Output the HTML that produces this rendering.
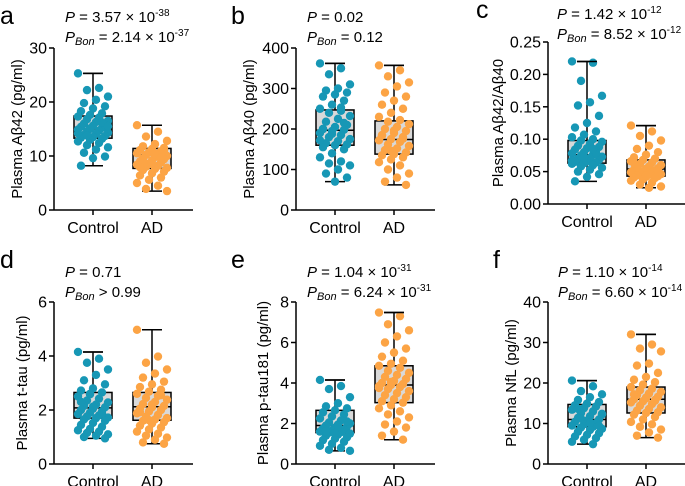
<!DOCTYPE html>
<html><head><meta charset="utf-8">
<style>
html,body{margin:0;padding:0;background:#fff;}
svg{display:block;font-family:"Liberation Sans",Arial,sans-serif;}
</style></head>
<body>
<svg id="fig" width="685" height="486" viewBox="0 0 685 486"></svg>
<script>
// ---- data ----
const categories = ["Control","AD"];
const aTicks=[0,10,20,30], bTicks=[0,100,200,300,400], cTicks=[0,0.05,0.10,0.15,0.20,0.25];
const dTicks=[0,2,4,6], eTicks=[0,2,4,6,8], fTicks=[0,10,20,30,40];
const aTickLabels=["0","10","20","30"], bTickLabels=["0","100","200","300","400"];
const cTickLabels=["0.00","0.05","0.10","0.15","0.20","0.25"];
const dTickLabels=["0","2","4","6"], eTickLabels=["0","2","4","6","8"], fTickLabels=["0","10","20","30","40"];
// box stats: [min, q1, median, q3, max]
const aBoxC=[8.2,13.3,15.0,17.4,25.3], aBoxA=[3.5,7.7,10.2,11.4,15.7];
const bBoxC=[70,160,197,247,362], bBoxA=[62,138,174,220,357];
const cBoxC=[0.035,0.063,0.076,0.098,0.22], cBoxA=[0.025,0.043,0.054,0.068,0.121];
const dBoxC=[0.95,1.7,2.08,2.65,4.15], dBoxA=[0.75,1.62,2.12,2.65,4.97];
const eBoxC=[0.65,1.55,1.9,2.65,4.15], eBoxA=[1.2,3.03,3.9,4.85,7.48];
const fBoxC=[4.9,9.2,11.0,14.7,20.6], fBoxA=[6.5,12.6,16.0,19.0,32];
// points
const aC=[25.3,22.6,22.2,21,20.4,19.8,19.2,18.8,18.3,17.9,17.6,17.3,17.0,16.8,16.5,16.3,16.0,15.8,15.6,15.4,15.2,15.0,14.9,14.7,14.5,14.3,14.1,13.9,13.7,13.5,13.4,13.2,13.0,12.7,12.4,12.0,11.6,11.2,10.6,9.9,9.6,8.2,16.2,15.1,14.2,17.1,13.8,15.5];
const aA=[15.7,14.5,13.6,12.8,12.2,11.8,11.5,11.3,11.1,10.9,10.7,10.5,10.3,10.2,10.0,9.8,9.6,9.4,9.2,9.0,8.8,8.6,8.4,8.2,8.0,7.8,7.6,7.4,7.1,6.8,6.4,6.0,5.6,5.0,4.5,3.9,3.5,10.4,9.1,11.0,8.5,7.9,9.7];
const bC=[362,350,335,310,300,295,290,285,280,270,260,250,245,240,232,225,218,210,205,200,198,195,190,185,180,175,170,165,162,160,155,150,140,130,120,115,110,100,90,80,70,200,215,188,172,253];
const bA=[357,345,330,315,305,290,280,270,260,250,240,230,222,218,212,205,200,195,190,185,180,175,172,168,162,158,152,148,142,138,135,130,125,118,110,100,90,80,70,62,196,184,176,146];
const cC=[0.22,0.218,0.19,0.167,0.157,0.152,0.136,0.125,0.118,0.112,0.107,0.103,0.100,0.098,0.096,0.093,0.09,0.088,0.086,0.084,0.082,0.080,0.078,0.076,0.075,0.073,0.071,0.070,0.068,0.066,0.065,0.064,0.063,0.062,0.06,0.058,0.056,0.053,0.05,0.046,0.042,0.035,0.079,0.072,0.067,0.085];
const cA=[0.121,0.112,0.105,0.098,0.09,0.085,0.08,0.076,0.072,0.07,0.068,0.066,0.064,0.062,0.06,0.058,0.056,0.055,0.054,0.053,0.052,0.05,0.049,0.048,0.047,0.046,0.045,0.044,0.043,0.042,0.041,0.04,0.038,0.036,0.033,0.03,0.027,0.025,0.057,0.051,0.044,0.063];
const dC=[4.15,3.9,3.75,3.5,3.3,3.1,2.95,2.8,2.72,2.65,2.58,2.5,2.42,2.35,2.28,2.2,2.15,2.1,2.05,2.0,1.95,1.9,1.85,1.8,1.76,1.72,1.7,1.65,1.6,1.52,1.45,1.38,1.3,1.25,1.2,1.15,1.1,1.05,1.0,0.95,2.12,2.3,1.88,2.6];
const dA=[4.97,3.98,3.75,3.5,3.35,3.2,3.05,2.95,2.85,2.75,2.68,2.6,2.52,2.45,2.38,2.3,2.22,2.15,2.1,2.05,2.0,1.95,1.88,1.82,1.75,1.7,1.65,1.6,1.55,1.5,1.42,1.35,1.28,1.2,1.12,1.05,0.98,0.9,0.8,0.75,2.2,1.92,2.55,1.62];
const eC=[4.15,3.85,3.7,3.3,3.0,2.85,2.75,2.65,2.55,2.45,2.35,2.25,2.15,2.05,2.0,1.95,1.9,1.85,1.8,1.75,1.7,1.65,1.6,1.57,1.55,1.5,1.45,1.4,1.32,1.25,1.18,1.1,1.0,0.9,0.8,0.7,0.65,1.88,1.62,2.1,1.52];
const eA=[7.48,7.3,6.9,6.6,6.3,6.0,5.7,5.5,5.3,5.1,4.95,4.85,4.75,4.6,4.5,4.4,4.3,4.2,4.1,4.0,3.95,3.9,3.85,3.8,3.7,3.6,3.5,3.4,3.3,3.2,3.1,3.03,2.9,2.75,2.6,2.45,2.3,2.1,1.95,1.8,1.6,1.4,1.2,4.05,3.75];
const fC=[20.6,19.2,18.0,17.2,16.5,15.8,15.3,14.9,14.5,14.2,13.8,13.4,13.0,12.6,12.2,11.8,11.4,11.0,10.7,10.4,10.1,9.8,9.5,9.2,9.0,8.7,8.4,8.0,7.6,7.2,6.8,6.4,6.0,5.5,4.9,11.2,12.4,10.2,13.6,9.4];
const fA=[32,29.5,28.5,27.8,24.8,24.3,22.5,21.5,20.8,20.2,19.6,19.0,18.6,18.2,17.8,17.4,17.0,16.6,16.2,16.0,15.8,15.5,15.2,14.8,14.4,14.0,13.6,13.2,12.8,12.6,12.2,11.6,11.0,10.4,9.8,9.2,8.5,7.8,7.0,6.5,16.4,17.2,15.6];

const NS="http://www.w3.org/2000/svg";
const svg=document.getElementById('fig');
function mk(tag,attrs,parent){const e=document.createElementNS(NS,tag);for(const k in attrs)e.setAttribute(k,attrs[k]);(parent||svg).appendChild(e);return e;}
const colors=["#1797b5","#fca445"];

const panels=[
 {id:"a",ax:54,top:48,bot:210,max:30,ticks:aTicks,tl:aTickLabels,boxes:[aBoxC,aBoxA],pts:[aC,aA],title:"Plasma Aβ42 (pg/ml)",tx:22,letter:[0,24],p1:"3.57 × 10",e1:"-38",p2:"2.14 × 10",e2:"-37",px:65,py:22},
 {id:"b",ax:296,top:48,bot:210,max:400,ticks:bTicks,tl:bTickLabels,boxes:[bBoxC,bBoxA],pts:[bC,bA],title:"Plasma Aβ40 (pg/ml)",tx:254,letter:[231,24],p1:"0.02",p2:"0.12",px:307,py:22},
 {id:"c",ax:548,top:42,bot:204,max:0.25,ticks:cTicks,tl:cTickLabels,boxes:[cBoxC,cBoxA],pts:[cC,cA],title:"Plasma Aβ42/Aβ40",tx:503,letter:[476,18],p1:"1.42 × 10",e1:"-12",p2:"8.52 × 10",e2:"-12",px:557,py:19},
 {id:"d",ax:54,top:302,bot:464,max:6,ticks:dTicks,tl:dTickLabels,boxes:[dBoxC,dBoxA],pts:[dC,dA],title:"Plasma t-tau (pg/ml)",tx:27,letter:[0,268],p1:"0.71",p2:"> 0.99",gt:true,px:65,py:277},
 {id:"e",ax:296,top:302,bot:464,max:8,ticks:eTicks,tl:eTickLabels,boxes:[eBoxC,eBoxA],pts:[eC,eA],title:"Plasma p-tau181 (pg/ml)",tx:268,letter:[231,268],p1:"1.04 × 10",e1:"-31",p2:"6.24 × 10",e2:"-31",px:307,py:277},
 {id:"f",ax:548,top:302,bot:464,max:40,ticks:fTicks,tl:fTickLabels,boxes:[fBoxC,fBoxA],pts:[fC,fA],title:"Plasma NfL (pg/ml)",tx:516,letter:[493,268],p1:"1.10 × 10",e1:"-14",p2:"6.60 × 10",e2:"-14",px:558,py:277}
];

panels.forEach(P=>{
  const g=mk('g',{});
  
  
  const y=v=>P.bot-(v/P.max)*(P.bot-P.top);
  const xs=[P.ax+39,P.ax+98];
  const L=mk('text',{x:P.letter[0],y:P.letter[1],'font-size':25},g);L.textContent=P.id;
  
  
  const t1=mk('text',{x:P.px,y:P.py,'font-size':15},g);
  
  
  t1.innerHTML='<tspan font-style="italic">P</tspan> = '+P.p1+(P.e1?'<tspan font-size="10" dy="-6">'+P.e1+'</tspan>':'');
  const t2=mk('text',{x:P.px,y:P.py+20,'font-size':15},g);
  
  
  t2.innerHTML='<tspan font-style="italic">P</tspan><tspan font-style="italic" font-size="11" dy="3">Bon</tspan><tspan dy="-3"> '+(P.gt?'':'= ')+P.p2+'</tspan>'+(P.e2?'<tspan font-size="10" dy="-6">'+P.e2+'</tspan>':'');
  const ya=mk('line',{x1:P.ax,y1:P.top,x2:P.ax,y2:P.bot,stroke:'#000','stroke-width':1.5},g);
  
  
  const xa=mk('line',{x1:P.ax,y1:P.bot,x2:Math.min(P.ax+139,685),y2:P.bot,stroke:'#000','stroke-width':1.5},g);
  
  
  P.ticks.forEach((t,i)=>{
    mk('line',{x1:P.ax-5,x2:P.ax,y1:y(t),y2:y(t),stroke:'#000','stroke-width':1.5},g);
    const tl=mk('text',{x:P.ax-7,y:y(t)+5.5,'font-size':16,'text-anchor':'end'},g);
    tl.textContent=P.tl[i];
    
    
  });
  const yt=mk('text',{x:0,y:0,'font-size':15,'text-anchor':'middle',transform:`translate(${P.tx},${(P.top+P.bot)/2}) rotate(-90)`},g);
  yt.textContent=P.title;
  
  
  categories.forEach((c,k)=>{
    mk('line',{x1:xs[k],x2:xs[k],y1:P.bot,y2:P.bot+5,stroke:'#000','stroke-width':1.5},g);
    const cl=mk('text',{x:xs[k],y:P.bot+23,'font-size':16,'text-anchor':'middle'},g);
    cl.textContent=c;
    
    
    const b=P.boxes[k], cx=xs[k];
    const bg=mk('g',{},g);
    
    
    mk('line',{x1:cx,x2:cx,y1:y(b[0]),y2:y(b[4]),stroke:'#000','stroke-width':1.5},bg);
    mk('line',{x1:cx-10,x2:cx+10,y1:y(b[0]),y2:y(b[0]),stroke:'#000','stroke-width':1.5},bg);
    mk('line',{x1:cx-10,x2:cx+10,y1:y(b[4]),y2:y(b[4]),stroke:'#000','stroke-width':1.5},bg);
    mk('rect',{x:cx-19,y:y(b[3]),width:38,height:y(b[1])-y(b[3]),fill:'#d9d9d9',stroke:'#000','stroke-width':1.5},bg);
    mk('line',{x1:cx-19,x2:cx+19,y1:y(b[2]),y2:y(b[2]),stroke:'#000','stroke-width':1.5},bg);
    const pg=mk('g',{fill:colors[k]},g);
    
    
    P.pts[k].forEach((v,i)=>{
      const off=(((i*7)%11)-5)/5*15;
      const dot=mk('circle',{cx:cx+off,cy:y(v),r:4.2},pg);
      
      
    });
    mk('line',{x1:cx-10,x2:cx+10,y1:y(b[4]),y2:y(b[4]),stroke:'#000','stroke-width':1.5},g);
  });
});
</script>
</body></html>
